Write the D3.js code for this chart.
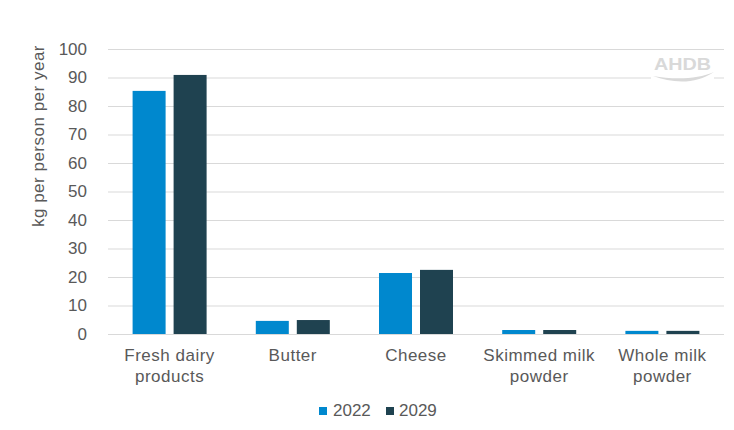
<!DOCTYPE html>
<html><head><meta charset="utf-8">
<script src="https://cdn.jsdelivr.net/npm/d3@7"></script>
<style>body{margin:0;background:#fff}svg{font-family:Arial,"Liberation Sans",sans-serif}</style>
</head><body>
<script>
const categories = [["Fresh dairy","products"],["Butter"],["Cheese"],["Skimmed milk","powder"],["Whole milk","powder"]];
const seriesNames = ["2022","2029"];
const values2022 = [85.3, 4.6, 21.4, 1.4, 1.1];
const values2029 = [90.9, 4.9, 22.5, 1.4, 1.1];
const yTicks = [0,10,20,30,40,50,60,70,80,90,100];
const colors = ["#0088CE","#1F4250"];

const W=734,H=430;
const m={left:108,right:10,top:49,bottom:96};
const svg=d3.select("body").append("svg").attr("width",W).attr("height",H);
const x=d3.scaleBand().domain(d3.range(categories.length)).range([m.left,W-m.right]).paddingInner(0).paddingOuter(0);
const y=d3.scaleLinear().domain([0,100]).range([H-m.bottom,m.top]);
const bw=33, gap=8;
const txt="#595959";

// grid
svg.append("g").selectAll("line").data(yTicks).join("line")
  .attr("x1",m.left).attr("x2",W-m.right).attr("y1",d=>y(d)+0.5).attr("y2",d=>y(d)+0.5)
  .attr("stroke","#d9d9d9").attr("stroke-width",1);

// logo
const logo=svg.append("g").attr("fill","#d9d9d9");
logo.append("rect").attr("x",651).attr("y",55).attr("width",63).attr("height",32).attr("fill","#fff");
logo.append("text").attr("x",654).attr("y",69.5).attr("font-size",17).attr("font-weight","bold")
  .attr("textLength",57).attr("lengthAdjust","spacingAndGlyphs").text("AHDB");
logo.append("path").attr("d","M653,76 C672,83 695,85 714,72 C698,79 675,80 653,76 Z");

// y labels
svg.append("g").selectAll("text").data(yTicks).join("text")
  .attr("x",87).attr("y",d=>y(d)).attr("dy","0.35em").attr("text-anchor","end")
  .attr("font-size",17).attr("fill",txt).text(d=>d);

svg.append("text").attr("transform",`translate(43.5,136) rotate(-90)`)
  .attr("text-anchor","middle").attr("font-size",17).attr("letter-spacing",0.5).attr("fill",txt).text("kg per person per year");

// bars
const series=[values2022,values2029];
series.forEach((vals,si)=>{
  svg.append("g").selectAll("rect").data(vals).join("rect")
    .attr("x",(d,i)=>x(i)+x.bandwidth()/2-gap/2-bw+si*(bw+gap))
    .attr("width",bw)
    .attr("y",d=>y(d)).attr("height",d=>y(0)-y(d))
    .attr("fill",colors[si]);
});

// x labels
const xl=svg.append("g").selectAll("text").data(categories).join("text")
  .attr("text-anchor","middle").attr("font-size",17).attr("letter-spacing",0.5).attr("fill",txt);
xl.each(function(lines,i){
  const t=d3.select(this);
  lines.forEach((l,j)=>t.append("tspan").attr("x",x(i)+x.bandwidth()/2).attr("y",361+j*21).text(l));
});

// legend
const lg=[{x:319,tx:333},{x:386,tx:399}];
seriesNames.forEach((n,i)=>{
  svg.append("rect").attr("x",lg[i].x).attr("y",407).attr("width",8).attr("height",8).attr("fill",colors[i]);
  svg.append("text").attr("x",lg[i].tx).attr("y",416).attr("font-size",17).attr("fill",txt).text(n);
});
</script>
</body></html>
